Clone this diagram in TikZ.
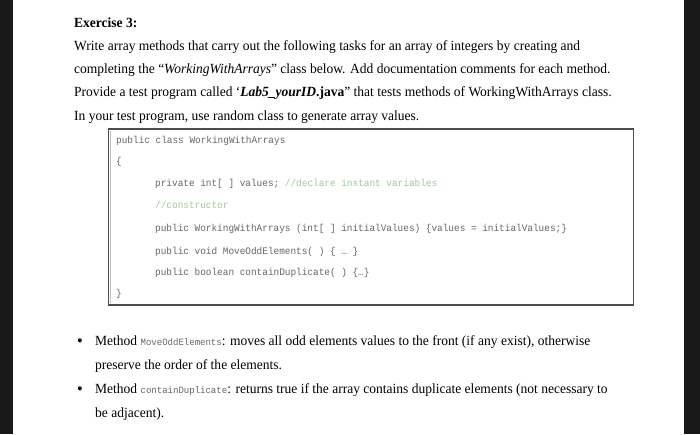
\documentclass[tikz,border=0pt]{standalone}
\usepackage{fontspec}
\setmainfont{Liberation Serif}[FakeStretch=0.965]
\newfontfamily\codefont{Liberation Mono}[FakeStretch=0.94]
\begin{document}
\begin{tikzpicture}[x=1pt,y=-1pt,
  txt/.style={anchor=base west,inner sep=0,font=\fontsize{14}{16}\selectfont},
  code/.style={anchor=base west,inner sep=0,font=\codefont\fontsize{10}{12}\selectfont,text=black!60}]
\fill[black!90] (0,0) rectangle (700,434);
\fill[white] (13,0) rectangle (684,434);
\node[txt,font=\bfseries\fontsize{14}{16}\selectfont] (t0) at (74,27) {Exercise 3:};
\node[txt] (t1) at (74,50) {Write array methods that carry out the following tasks for an array of integers by creating and};
\node[txt] (t2) at (74,73) {completing the ``\textit{WorkingWithArrays}'' class below. Add documentation comments for each method.};
\node[txt] (t3) at (74,96) {Provide a test program called `\textbf{\textit{Lab5\_yourID}.java}'' that tests methods of WorkingWithArrays class.};
\node[txt] (t4) at (74,120) {In your test program, use random class to generate array values.};
\draw[black!70,line width=1.6pt] (108.5,129) rectangle (633.5,305);
\draw[black!25,line width=0.6pt] (110.5,131) -- (110.5,303);
\node[code] (c1) at (116,143) {public class WorkingWithArrays};
\node[code] (c2) at (116,164) {\{};
\node[code] (c3) at (155,186) {private int[ ] values; {\color{green!30!gray!60}//declare instant variables}};
\node[code] (c4) at (155,208) {\color{green!30!gray!60}//constructor};
\node[code] (c5) at (155,231) {public WorkingWithArrays (int[ ] initialValues) \{values = initialValues;\}};
\node[code] (c6) at (155,254) {public void MoveOddElements( ) \{ \dots\ \}};
\node[code] (c7) at (155,275) {public boolean containDuplicate( ) \{\dots\}};
\node[code] (c8) at (116,296) {\}};
\node[txt,font=\fontsize{17}{17}\selectfont] (b1) at (77,346) {\textbullet};
\node[txt] (l1) at (95,345) {Method {\codefont\fontsize{9.6}{10}\selectfont\color{black!60}MoveOddElements}: moves all odd elements values to the front (if any exist), otherwise};
\node[txt] (l2) at (95,369) {preserve the order of the elements.};
\node[txt,font=\fontsize{17}{17}\selectfont] (b2) at (77,394) {\textbullet};
\node[txt] (l3) at (95,393) {Method {\codefont\fontsize{9.6}{10}\selectfont\color{black!60}containDuplicate}: returns true if the array contains duplicate elements (not necessary to};
\node[txt] (l4) at (95,417) {be adjacent).};
\end{tikzpicture}
\end{document}
